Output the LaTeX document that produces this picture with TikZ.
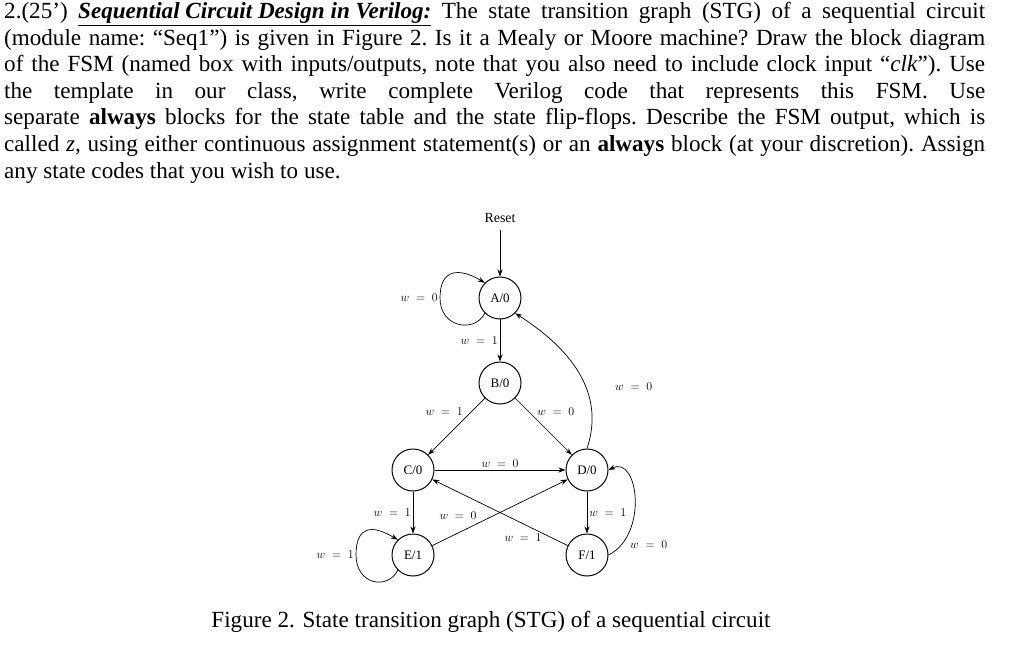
\documentclass[tikz,border=0pt]{standalone}
\usepackage{fontspec}
\setmainfont{Liberation Serif}
\usetikzlibrary{arrows.meta}
\begin{document}
\begin{tikzpicture}[x=1bp,y=-1bp,
 st/.style={circle,draw,line width=1pt,minimum size=42bp,inner sep=0pt,font=\fontsize{13}{14}\selectfont},
 lab/.style={font=\fontsize{13}{14}\selectfont,inner sep=2pt},
 tr/.style={-{Stealth[length=7bp,width=5bp]},line width=0.7pt}]
\useasboundingbox (0,0) rectangle (1012,661);
\node[anchor=north west,inner sep=0pt,text width=981bp,align=justify,font=\fontsize{23.2}{26.7}\selectfont] (txt) at (4,2)
{\frenchspacing 2.(25’) \underline{\textbf{\textit{Sequential Circuit Design in Verilog:}}} The state transition graph (STG) of a sequential circuit\linebreak
(module name: “Seq1”) is given in Figure 2. Is it a Mealy or Moore machine? Draw the block diagram\linebreak
of the FSM (named box with inputs/outputs, note that you also need to include clock input “\textit{clk}”). Use\linebreak
the template in our class, write complete Verilog code that represents this FSM. Use\linebreak
separate \textbf{always} blocks for the state table and the state flip-flops. Describe the FSM output, which is\linebreak
called \textit{z}, using either continuous assignment statement(s) or an \textbf{always} block (at your discretion). Assign\linebreak
any state codes that you wish to use.};
\node[st] (A) at (500,298) {A/0};
\node[st] (B) at (500,383) {B/0};
\node[st] (C) at (413,470) {C/0};
\node[st] (D) at (587,470) {D/0};
\node[st] (E) at (413,555) {E/1};
\node[st] (F) at (587,555) {F/1};
\node[lab,font=\fontsize{14}{15}\selectfont] (R) at (500,218) {Reset};
\draw[tr] (R.south)++(0,5) coordinate (r0) -- (A.north);
\draw[tr] (A) -- node[lab,left]{$w\;=\;1$} (B);
\draw[tr] (B) -- node[lab,above left,pos=0.35]{$w\;=\;1$} (C);
\draw[tr] (B) -- node[lab,above right,pos=0.35]{$w\;=\;0$} (D);
\draw[tr] (C) -- node[lab,above]{$w\;=\;0$} (D);
\draw[tr] (C) -- node[lab,left]{$w\;=\;1$} (E);
\draw[tr] (D) -- node[lab,right]{$w\;=\;1$} (F);
\draw[tr] (E) -- (D);
\node[lab] (l3) at (458,516) {$w\;=\;0$};
\draw[tr] (F) -- (C);
\node[lab] (l4) at (523,538) {$w\;=\;1$};
\draw[tr] (F.east) .. controls +(40,-20) and +(30,-15) .. (D.east);
\node[lab,anchor=west] (l1) at (628,545) {$w\;=\;0$};
\draw[tr] (D.north) .. controls +(15,-45) and +(70,45) .. (A.south east);
\node[lab,anchor=west] (l2) at (613,387) {$w\;=\;0$};
\draw[tr] (A.south west) .. controls +(-10,20) and +(0,30) .. (440,298) node[lab,left]{$w\;=\;0$} .. controls +(0,-30) and +(-25,-15) .. (A.north west);
\draw[tr] (E.south west) .. controls +(-10,20) and +(0,30) .. (356,555) node[lab,left]{$w\;=\;1$} .. controls +(0,-30) and +(-25,-15) .. (E.north west);
\node[font=\fontsize{23.2}{26}\selectfont] (cap) at (491,622) {Figure 2. State transition graph (STG) of a sequential circuit};
\end{tikzpicture}
\end{document}
